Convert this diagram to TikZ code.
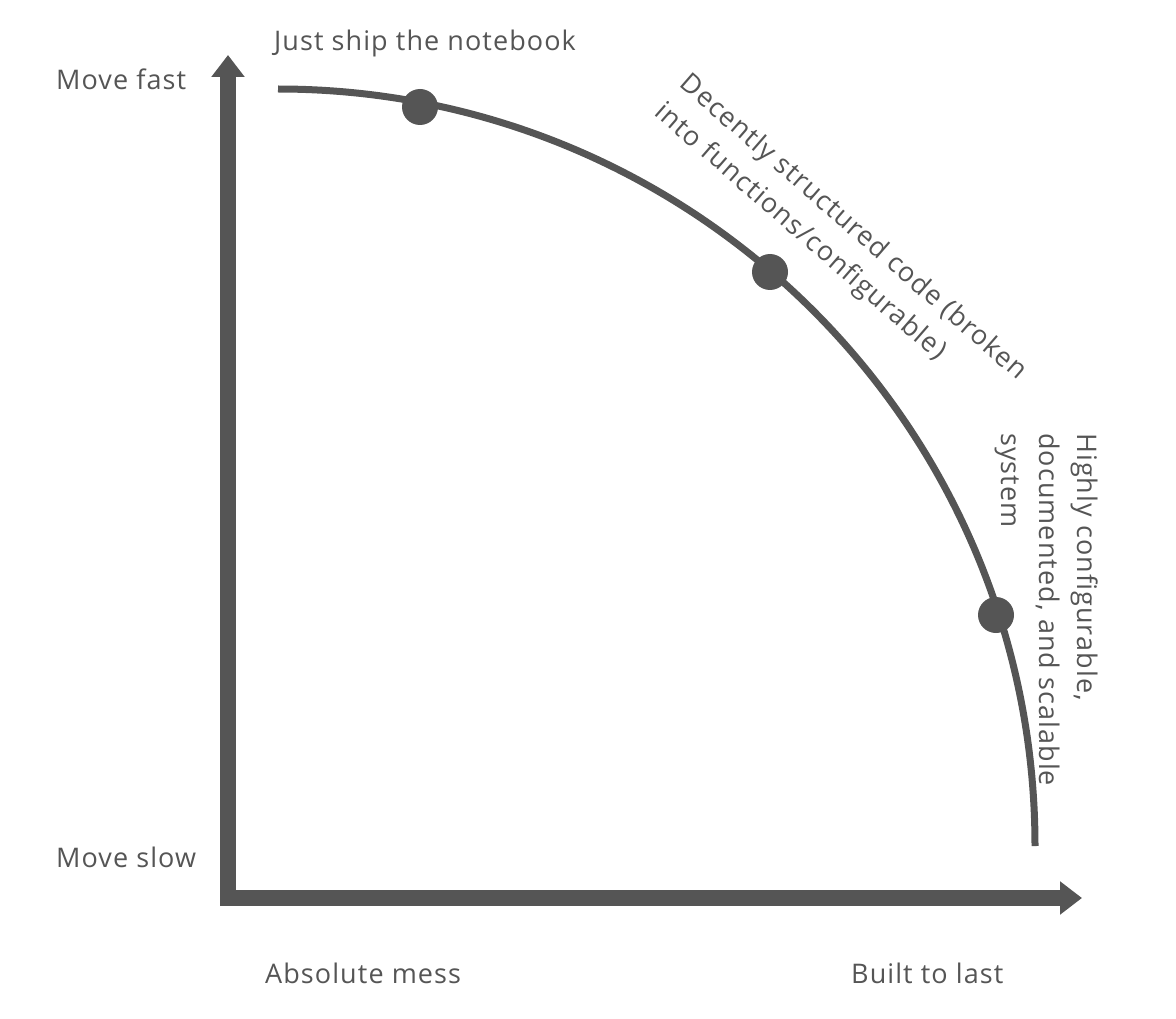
\documentclass[tikz,border=0pt]{standalone}
\usepackage{fontspec}
\setmainfont[LetterSpace=4]{Open Sans}
\usetikzlibrary{arrows.meta}
\definecolor{ink}{HTML}{555555}
\begin{document}
\begin{tikzpicture}[x=1pt,y=-1pt,
  axis/.style={draw=ink,line width=16pt,-{Triangle[length=22pt,width=32pt]}},
  lbl/.style={text=ink,font=\fontsize{27}{38}\selectfont,inner sep=0pt,align=left},
  dot/.style={circle,fill=ink,minimum size=36pt,inner sep=0pt}]
\useasboundingbox (0,0) rectangle (1176,1019);
\coordinate (o) at (228,905);
\coordinate (ytip) at (228,55);
\coordinate (xo) at (220,898);
\coordinate (xtip) at (1082,898);
\draw[axis] (o) -- (ytip);
\draw[axis] (xo) -- (xtip);
\coordinate (c0) at (278,89);
\draw[ink,line width=7pt] (c0) arc[start angle=90,end angle=0,radius=757pt];
\node[dot] (d1) at (420,107) {};
\node[dot] (d2) at (770,272) {};
\node[dot] (d3) at (996,615) {};
\node[lbl,anchor=west] (mf) at (56,79) {Move fast};
\node[lbl,anchor=west] (ms) at (56,857) {Move slow};
\node[lbl,anchor=west] (am) at (265,973) {Absolute mess};
\node[lbl,anchor=west] (bl) at (851,973) {Built to last};
\node[lbl,anchor=west] (js) at (274,43) {Just ship the notebook};
\node[lbl,rotate=-41,anchor=north west] (dc) at (692,70) {Decently structured code (broken\\into functions/configurable)};
\node[lbl,rotate=-90,anchor=north west] (hc) at (1098,433) {Highly configurable,\\documented, and scalable\\system};
\end{tikzpicture}
\end{document}
